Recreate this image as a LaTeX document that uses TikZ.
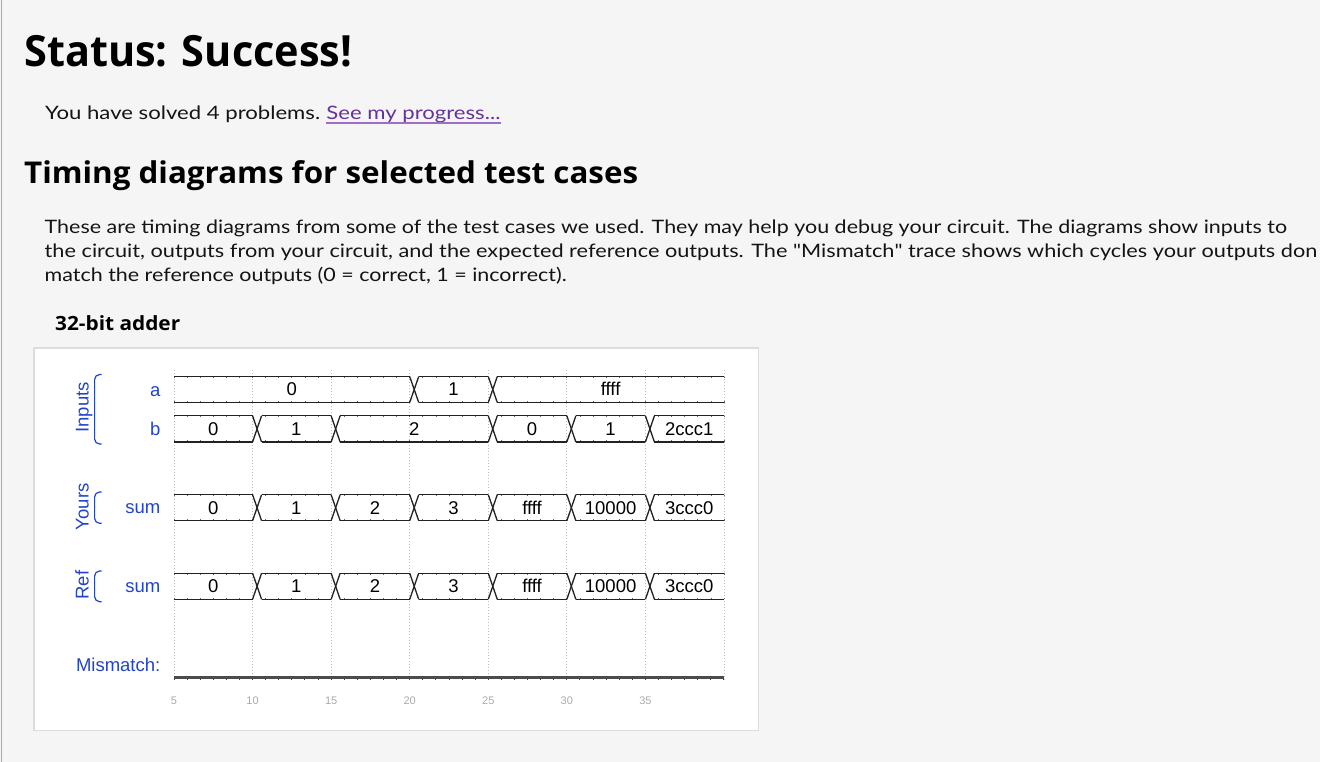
\documentclass[tikz,border=0pt]{standalone}
\usepackage{fontspec}
\usepackage{graphicx}
\setmainfont{Lato}
\newfontfamily\qfont{Lato}[Ligatures=TeXOff]
\newfontfamily\headfont{Open Sans}
\newfontfamily\arialfont{Liberation Sans}
\definecolor{pagebg}{HTML}{F5F5F5}
\definecolor{lblue}{HTML}{2244CC}
\definecolor{linkc}{HTML}{663399}
\definecolor{linku}{HTML}{9A6FC4}
\definecolor{boxb}{HTML}{DDDDDD}
\definecolor{gridc}{HTML}{BBBBBB}
\definecolor{axisc}{HTML}{AAAAAA}
\definecolor{busc}{HTML}{222222}
\definecolor{textc}{HTML}{141414}
\definecolor{pageedge}{HTML}{AAAAAA}
\newcommand\fitw[2]{\sbox0{#2}\pgfmathsetmacro\myfr{#1/\wd0}\scalebox{\myfr}[1]{\usebox0}}
\newcommand\pfont{\fontsize{18.5}{22}\selectfont}
\newcommand\dq{{\qfont"}}
\tikzset{
  txt/.style={anchor=base west, inner sep=0pt, text=textc},
  bus/.style={draw=busc, line width=1.3pt},
  tickm/.style={draw=busc!70, line width=0.8pt},
  gridl/.style={draw=gridc, line width=0.8pt, dash pattern=on 1pt off 2pt},
  val/.style={anchor=base, inner sep=0pt, font=\arialfont\fontsize{18.5}{22}\selectfont, text=black},
  sig/.style={anchor=base east, inner sep=0pt, font=\arialfont\fontsize{18.5}{22}\selectfont, text=lblue},
  grp/.style={anchor=base, rotate=90, inner sep=0pt, font=\arialfont\fontsize{18.5}{22}\selectfont, text=lblue},
  brk/.style={draw=lblue, line width=1.2pt, rounded corners=5pt},
  axl/.style={anchor=base, inner sep=0pt, font=\arialfont\fontsize{11}{13}\selectfont, text=axisc},
}
% #1 row name, #2 top y, #3 bottom y, #4 segments t1/t2/value
\newcommand\busrow[4]{%
  \foreach \k in {0,...,42} {
    \pgfmathsetmacro\xt{174+\k*13.095}
    \draw[tickm] (\xt,#2) -- ++(0,1.6);
    \draw[tickm] (\xt,#3) -- ++(0,-1.6);
  }
  \foreach \ta/\tb/\v in {#4} {
    \pgfmathsetmacro\xa{174+(\ta-5)*15.714}
    \pgfmathsetmacro\xb{174+(\tb-5)*15.714}
    \ifdim\ta pt>5pt \pgfmathsetmacro\xs{\xa+9}\else\pgfmathsetmacro\xs{\xa}\fi
    \draw[bus] (\xs,#2) -- (\xb,#2);
    \draw[bus] (\xs,#3) -- (\xb,#3);
    \ifdim\tb pt<40pt
      \draw[bus] (\xb,#2) -- (\xb+9,#3);
      \draw[bus] (\xb,#3) -- (\xb+9,#2);
    \fi
    \node[val] (#1-\ta) at ({(\xs+\xb)/2},{(#2+#3)/2+6.3}) {\v};
  }
}
\begin{document}
\begin{tikzpicture}[x=1pt,y=-1pt]
\useasboundingbox (0,0) rectangle (1320,762);
\clip (0,0) rectangle (1320,762);
\fill[pagebg] (0,0) rectangle (1320,762);
\draw[pageedge, line width=1.4pt] (1.6,0) -- (1.6,762);

% headings
\node[txt, text=black] (title) at (24,66.8)
  {\fitw{328}{\headfont\bfseries\fontsize{43}{50}\selectfont Status: Success!}};
\node[txt] (solved) at (45,120)
  {\fitw{275}{\pfont You have solved 4 problems.}};
\node[txt, text=linkc] (link) at (326.2,120)
  {\fitw{174}{\pfont See my progress...}};
\draw[linku, line width=1.6pt] ([yshift=-3pt]link.base west) -- ([yshift=-3pt]link.base east);

\node[txt, text=black] (heading) at (24,183.3)
  {\fitw{614}{\headfont\bfseries\fontsize{30}{36}\selectfont Timing diagrams for selected test cases}};

% paragraph
\node[txt] (p3) at (44.5,281.8)
  {\sbox0{\pfont match the reference outputs (0 = correct, 1 = incorrect).}\pgfmathsetmacro\tmpfr{522/\wd0}\xdef\parfr{\tmpfr}\scalebox{\parfr}[1]{\usebox0}};
\node[txt] (p1) at (44.5,233.5)
  {\scalebox{\parfr}[1]{\pfont These are timing diagrams from some of the test cases we used. They may help you debug your circuit. The diagrams show inputs to}};
\node[txt] (p2) at (44.5,257.8)
  {\scalebox{1.012}[1]{\scalebox{\parfr}[1]{\pfont the circuit, outputs from your circuit, and the expected reference outputs. The \dq Mismatch\dq{} trace shows which cycles your outputs don}}};

\node[txt, text=black] (caption) at (55,330.7)
  {\fitw{125}{\headfont\bfseries\fontsize{19.6}{24}\selectfont 32-bit adder}};

% diagram box
\filldraw[fill=white, draw=boxb, line width=1.5pt] (34,348) rectangle (758.3,730.6);

% grid
\foreach \t in {5,10,...,40} {
  \pgfmathsetmacro\xg{174+(\t-5)*15.714}
  \draw[gridl] (\xg,370) -- (\xg,681);
}
\foreach \t in {5,10,...,35} {
  \pgfmathsetmacro\xg{174+(\t-5)*15.714}
  \node[axl] (ax\t) at (\xg,704) {\t};
}

% buses
\busrow{a}{376.5}{402.5}{5/20/0, 20/25/1, 25/40/ffff}
\busrow{b}{415.8}{442}{5/10/0, 10/15/1, 15/25/2, 25/30/0, 30/35/1, 35/40/2ccc1}
\busrow{ys}{494.7}{520.7}{5/10/0, 10/15/1, 15/20/2, 20/25/3, 25/30/ffff, 30/35/10000, 35/40/3ccc0}
\busrow{rs}{573.2}{599.3}{5/10/0, 10/15/1, 15/20/2, 20/25/3, 25/30/ffff, 30/35/10000, 35/40/3ccc0}

% mismatch line
\foreach \k in {0,...,42} {
  \pgfmathsetmacro\xt{174+\k*13.095}
  \draw[draw=black!75, line width=1pt] (\xt,677.7) -- ++(0,2.6);
}
\draw[draw=black!70, line width=2.6pt] (174,677.7) -- (724,677.7);

% signal labels
\node[sig] (la) at (160.5,396) {a};
\node[sig] (lb) at (160.5,435.6) {b};
\node[sig] (lys) at (160.5,513.5) {sum};
\node[sig] (lrs) at (160.5,592.5) {sum};
\node[sig] (lmm) at (160.5,671.7) {Mismatch:};

% group labels
\node[grp] (ginputs) at (88.6,407.5) {Inputs};
\node[grp] (gyours) at (88.6,506.7) {Yours};
\node[grp] (gref) at (88.6,585) {Ref};
\draw[brk] (101.7,374.5) -- (94.6,374.5) -- (94.6,444) -- (101.7,444);
\draw[brk] (101.7,492) -- (94.6,492) -- (94.6,523.3) -- (101.7,523.3);
\draw[brk] (101.7,571) -- (94.6,571) -- (94.6,601.7) -- (101.7,601.7);
\end{tikzpicture}
\end{document}
